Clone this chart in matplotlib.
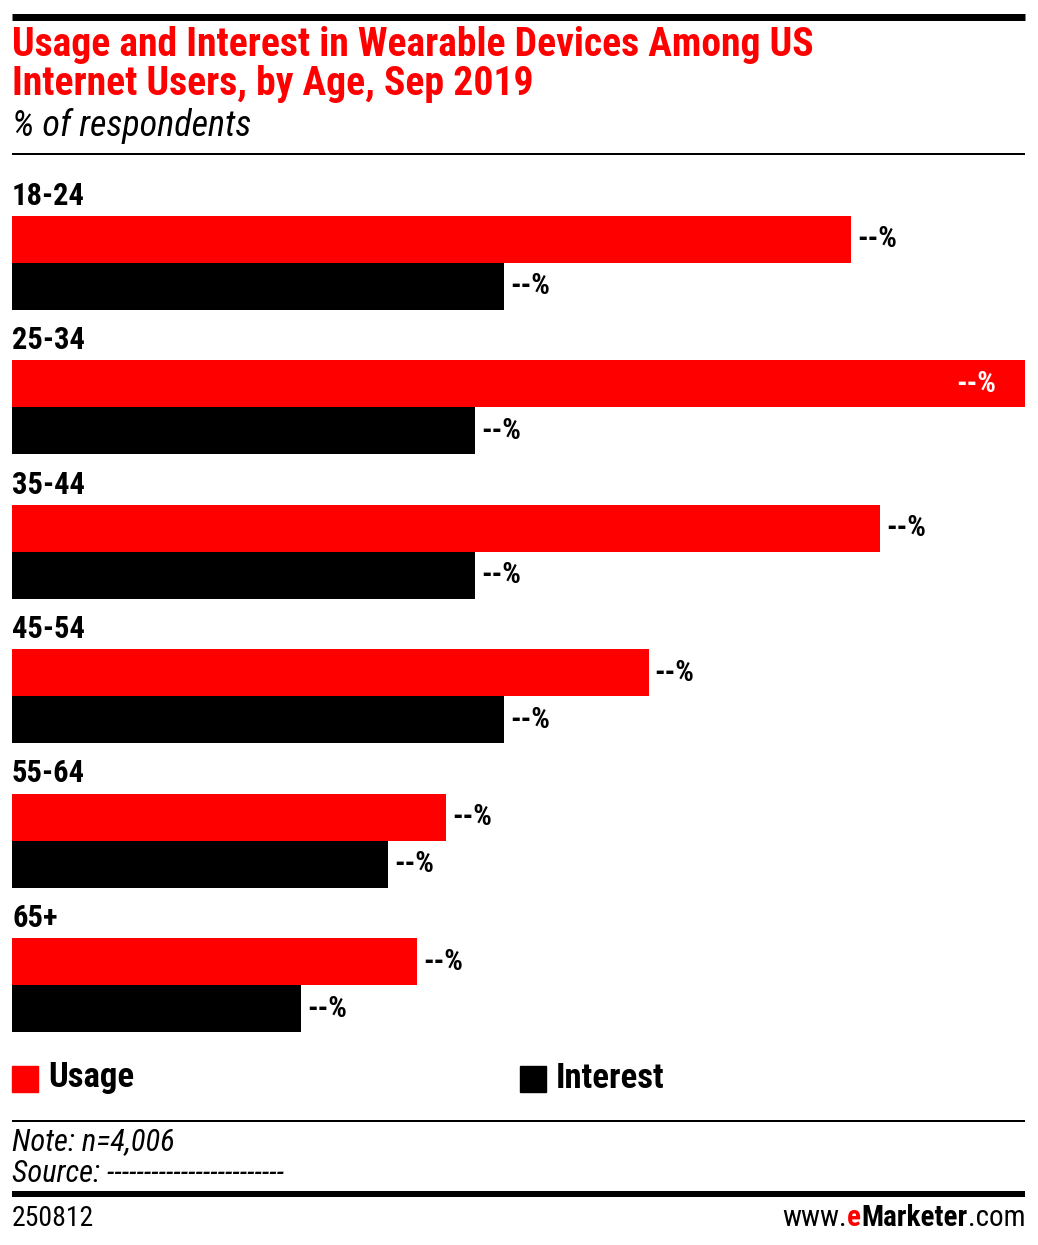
import matplotlib
matplotlib.use("Agg")
import matplotlib.pyplot as plt
from matplotlib import font_manager
from matplotlib.patches import Rectangle
from matplotlib.lines import Line2D

# данные (значения скрыты на исходном графике, оценены по длине столбцов)
ages = ["18-24", "25-34", "35-44", "45-54", "55-64", "65+"]
usage = [29, 35, 30, 22, 15, 14]
interest = [17, 16, 16, 17, 13, 10]
value_labels = ["--%"] * len(ages)

RED = "#ff0000"
installed = {f.name for f in font_manager.fontManager.ttflist}
FONT = [f for f in ["Liberation Sans Narrow", "Roboto Condensed", "Liberation Sans"] if f in installed]
plt.rcParams["font.family"] = FONT + ["DejaVu Sans"]

W, H = 1038, 1245
fig = plt.figure(figsize=(W / 100, H / 100), dpi=100)
r = fig.canvas.get_renderer()


def fx(px):
    return px / W


def fy(py):
    return 1 - py / H


def fit(t, width_px, max_size=None):
    # подгоняем размер шрифта под ширину текста на исходнике
    for _ in range(3):
        w = t.get_window_extent(renderer=r).width
        t.set_fontsize(t.get_fontsize() * width_px / w)
    if max_size is not None and t.get_fontsize() > max_size:
        t.set_fontsize(max_size)
    return t.get_fontsize()


# линии-разделители
for y, lw in [(16.5, 7), (154, 2), (1121, 2), (1194, 6)]:
    fig.add_artist(Line2D([fx(12), fx(1025)], [fy(y), fy(y)], color="black", lw=lw * 0.72,
                          solid_capstyle="butt"))

# заголовок
t1 = fig.text(fx(12), fy(45), "Usage and Interest in Wearable Devices Among US", color=RED,
              fontsize=30, fontweight="bold", va="center", ha="left")
fs = fit(t1, 946, max_size=28.5)
fig.text(fx(12), fy(84), "Internet Users, by Age, Sep 2019", color=RED,
         fontsize=fs, fontweight="bold", va="center", ha="left")
t3 = fig.text(fx(12), fy(126), "% of respondents", color="black", fontsize=26,
              style="italic", va="center", ha="left")
fit(t3, 284, max_size=26)

# столбцы
ax = fig.add_axes([fx(12), fy(1032), fx(1013), (1032 - 216) / H])
bh = 47 / 144.5
pos = list(range(len(ages)))
ax.barh([p + bh / 2 for p in pos], usage, height=bh, color=RED)
ax.barh([p + 1.5 * bh for p in pos], interest, height=bh, color="black")
ax.set_xlim(0, 35)
ax.set_ylim(5 + 2 * bh, 0)
ax.axis("off")

for i, age in enumerate(ages):
    ax.text(0, i - 0.14, age, fontsize=22, fontweight="bold", va="center", ha="left",
            clip_on=False)
    if usage[i] >= max(usage):
        ax.text(usage[i] - 1.0, i + bh / 2, value_labels[i], fontsize=21, fontweight="bold",
                color="white", va="center", ha="right")
    else:
        ax.text(usage[i] + 0.2, i + bh / 2, value_labels[i], fontsize=21, fontweight="bold",
                va="center", ha="left")
    ax.text(interest[i] + 0.2, i + 1.5 * bh, value_labels[i], fontsize=21, fontweight="bold",
            va="center", ha="left")

# легенда
for x0, col, name in [(12, RED, "Usage"), (520, "black", "Interest")]:
    fig.add_artist(Rectangle((fx(x0), fy(1092)), fx(26), 26 / H, color=col))
    fig.text(fx(x0 + 36), fy(1078), name, fontsize=25, fontweight="bold", va="center", ha="left")

# примечание
tn = fig.text(fx(12), fy(1142), "Note: n=4,006", fontsize=22, style="italic", va="center")
fig.text(fx(12), fy(1174), "Source: ------------------------", fontsize=22,
         style="italic", va="center")
fig.text(fx(12), fy(1218), "250812", fontsize=20, va="center")

# www.eMarketer.com справа
parts = [("www.", "black", "normal"), ("e", RED, "bold"), ("Marketer", "black", "bold"),
         (".com", "black", "normal")]
x = 1025
for txt, col, wt in reversed(parts):
    t = fig.text(fx(x), fy(1218), txt, fontsize=21, color=col, fontweight=wt,
                 va="center", ha="right")
    x -= t.get_window_extent(renderer=r).width

fig.savefig("out.png", dpi=100)
